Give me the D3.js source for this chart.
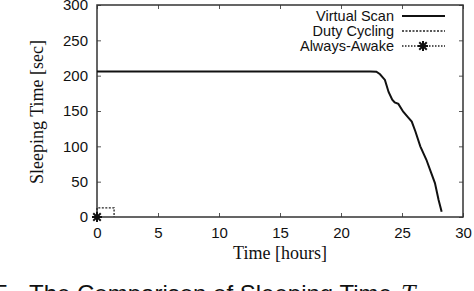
<!DOCTYPE html>
<html><head><meta charset="utf-8">
<script src="https://cdn.jsdelivr.net/npm/d3@7"></script>
<style>body{margin:0;background:#fff;overflow:hidden}svg{display:block}</style>
</head><body>
<script>
const xTicks = [0,5,10,15,20,25,30];
const yTicks = [0,50,100,150,200,250,300];
const virtualScan = [[0,206],[22.4,206],[22.9,205.5],[23.2,202],[23.6,194],[23.9,177],[24.2,166],[24.4,162],[24.7,160],[25.1,149],[25.5,141],[25.8,135],[26.1,121],[26.5,100],[27.0,81],[27.4,62],[27.7,48],[28.0,24],[28.25,7.5]];
const dutyCycling = [[0,0],[0,13],[1.4,13],[1.4,0]];
const alwaysAwake = [[0,0]];
const legendLabels = ["Virtual Scan","Duty Cycling","Always-Awake"];

const W=474,H=291;
const svg=d3.select("body").append("svg").attr("width",W).attr("height",H);
const L=97,R=463,T=5,B=217;
const x=d3.scaleLinear().domain([0,30]).range([L,R]);
const y=d3.scaleLinear().domain([0,300]).range([B,T]);
const sans="Liberation Sans, Arial, sans-serif", serif="Liberation Serif, Times New Roman, serif";

const g=svg.append("g");
g.append("g").attr("transform",`translate(0,${B})`).call(d3.axisBottom(x).tickValues(xTicks).tickSize(-4).tickSizeOuter(0).tickPadding(10))
 .call(a=>{a.select(".domain").remove();a.selectAll("line").attr("stroke","#555");a.selectAll("text").attr("font-family",sans).attr("font-size",15).attr("fill","#111");});
g.append("g").attr("transform",`translate(0,${T})`).call(d3.axisTop(x).tickValues(xTicks).tickSize(-4).tickSizeOuter(0).tickFormat(""))
 .call(a=>{a.select(".domain").remove();a.selectAll("line").attr("stroke","#555");});
g.append("g").attr("transform",`translate(${L},0)`).call(d3.axisLeft(y).tickValues(yTicks).tickSize(-4).tickSizeOuter(0).tickPadding(9))
 .call(a=>{a.select(".domain").remove();a.selectAll("line").attr("stroke","#555");a.selectAll("text").attr("font-family",sans).attr("font-size",15).attr("fill","#111");});
g.append("g").attr("transform",`translate(${R},0)`).call(d3.axisRight(y).tickValues(yTicks).tickSize(-4).tickSizeOuter(0).tickFormat(""))
 .call(a=>{a.select(".domain").remove();a.selectAll("line").attr("stroke","#555");});

svg.append("rect").attr("x",L).attr("y",T).attr("width",R-L).attr("height",B-T).attr("fill","none").attr("stroke","#333").attr("stroke-width",1.5);

const line=d3.line().x(d=>x(d[0])).y(d=>y(d[1]));
svg.append("path").datum(virtualScan).attr("d",line).attr("fill","none").attr("stroke","#111").attr("stroke-width",2);
svg.append("path").datum(dutyCycling).attr("d",line).attr("fill","none").attr("stroke","#222").attr("stroke-width",1.3).attr("stroke-dasharray","2,1.5");

function star(sel,cx,cy,r){
  const gg=sel.append("g").attr("stroke","#111").attr("stroke-width",2);
  [[r,0],[0,r],[r*0.75,r*0.75],[r*0.75,-r*0.75]].forEach(([dx,dy])=>gg.append("line").attr("x1",cx-dx).attr("y1",cy-dy).attr("x2",cx+dx).attr("y2",cy+dy));
}
alwaysAwake.forEach(d=>star(svg,x(d[0]),y(d[1]),5));

const ly=[16,31,46];
legendLabels.forEach((t,i)=>{
  svg.append("text").attr("x",394).attr("y",ly[i]).attr("dy","0.35em").attr("text-anchor","end").attr("font-family",sans).attr("font-size",14.5).attr("fill","#111").text(t);
});
svg.append("line").attr("x1",402).attr("x2",445).attr("y1",ly[0]).attr("y2",ly[0]).attr("stroke","#111").attr("stroke-width",2);
svg.append("line").attr("x1",402).attr("x2",445).attr("y1",ly[1]).attr("y2",ly[1]).attr("stroke","#222").attr("stroke-width",1.3).attr("stroke-dasharray","2,1.5");
svg.append("line").attr("x1",402).attr("x2",445).attr("y1",ly[2]).attr("y2",ly[2]).attr("stroke","#222").attr("stroke-width",1.3).attr("stroke-dasharray","1.5,1.5");
star(svg,423,ly[2],5);

svg.append("text").attr("x",280).attr("y",253).attr("dy","0.35em").attr("text-anchor","middle").attr("font-family",serif).attr("font-size",18).attr("fill","#111").text("Time [hours]");
svg.append("text").attr("transform","translate(37,112) rotate(-90)").attr("dy","0.35em").attr("text-anchor","middle").attr("font-family",serif).attr("font-size",18).attr("fill","#111").text("Sleeping Time [sec]");

// cut-off caption
const cap=svg.append("g").attr("font-family",sans).attr("font-size",24).attr("fill","#111");
cap.append("text").attr("x",-5).attr("y",302).text("5");
cap.append("text").attr("x",29).attr("y",302).text("The Comparison of Sleeping Time");
cap.append("text").attr("x",401).attr("y",302).attr("font-family",serif).attr("font-style","italic").attr("font-size",26).text("T");
</script>
</body></html>
